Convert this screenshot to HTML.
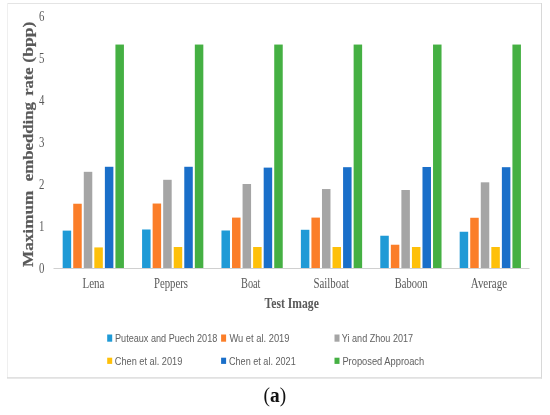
<!DOCTYPE html>
<html lang="en"><head><meta charset="utf-8"><title>Figure (a)</title>
<style>html,body{margin:0;padding:0;background:#fff}body{width:550px;height:415px;overflow:hidden}svg{display:block}text{font-family:"Liberation Serif",serif}.s{font-family:"Liberation Sans",sans-serif}</style></head><body>
<svg width="550" height="415" viewBox="0 0 550 415">
<rect x="0" y="0" width="550" height="415" fill="#fff"/>
<rect x="7" y="3" width="535" height="1" fill="#e4e4e4"/>
<rect x="7" y="3" width="1" height="375" fill="#efefef"/>
<rect x="541" y="3" width="1" height="375.5" fill="#d8d8d8"/>
<rect x="7" y="377.2" width="535" height="1.4" fill="#dadada"/>
<line x1="53.5" y1="268.5" x2="529.5" y2="268.5" stroke="#d0d0d0" stroke-width="1"/>
<rect x="62.68" y="230.62" width="8.5" height="37.38" fill="#1f9ad6"/>
<rect x="73.23" y="203.74" width="8.5" height="64.26" fill="#fb7e29"/>
<rect x="83.78" y="171.82" width="8.5" height="96.18" fill="#a5a5a5"/>
<rect x="94.33" y="247.42" width="8.5" height="20.58" fill="#fec00a"/>
<rect x="104.88" y="166.78" width="8.5" height="101.22" fill="#1a6fc9"/>
<rect x="115.43" y="44.56" width="8.5" height="223.44" fill="#45b043"/>
<text x="82.50" y="288.2" font-size="14.3" fill="#595959" textLength="22" lengthAdjust="spacingAndGlyphs">Lena</text>
<rect x="142.08" y="229.49" width="8.5" height="38.51" fill="#1f9ad6"/>
<rect x="152.63" y="203.53" width="8.5" height="64.47" fill="#fb7e29"/>
<rect x="163.18" y="179.80" width="8.5" height="88.20" fill="#a5a5a5"/>
<rect x="173.73" y="247.00" width="8.5" height="21.00" fill="#fec00a"/>
<rect x="184.28" y="166.78" width="8.5" height="101.22" fill="#1a6fc9"/>
<rect x="194.83" y="44.56" width="8.5" height="223.44" fill="#45b043"/>
<text x="154.05" y="288.2" font-size="14.3" fill="#595959" textLength="33.9" lengthAdjust="spacingAndGlyphs">Peppers</text>
<rect x="221.47" y="230.49" width="8.5" height="37.51" fill="#1f9ad6"/>
<rect x="232.03" y="217.60" width="8.5" height="50.40" fill="#fb7e29"/>
<rect x="242.57" y="184.00" width="8.5" height="84.00" fill="#a5a5a5"/>
<rect x="253.12" y="247.00" width="8.5" height="21.00" fill="#fec00a"/>
<rect x="263.68" y="167.62" width="8.5" height="100.38" fill="#1a6fc9"/>
<rect x="274.23" y="44.56" width="8.5" height="223.44" fill="#45b043"/>
<text x="241.00" y="288.2" font-size="14.3" fill="#595959" textLength="19.5" lengthAdjust="spacingAndGlyphs">Boat</text>
<rect x="300.88" y="229.78" width="8.5" height="38.22" fill="#1f9ad6"/>
<rect x="311.43" y="217.60" width="8.5" height="50.40" fill="#fb7e29"/>
<rect x="321.98" y="189.04" width="8.5" height="78.96" fill="#a5a5a5"/>
<rect x="332.53" y="247.00" width="8.5" height="21.00" fill="#fec00a"/>
<rect x="343.08" y="167.20" width="8.5" height="100.80" fill="#1a6fc9"/>
<rect x="353.63" y="44.56" width="8.5" height="223.44" fill="#45b043"/>
<text x="313.40" y="288.2" font-size="14.3" fill="#595959" textLength="35.6" lengthAdjust="spacingAndGlyphs">Sailboat</text>
<rect x="380.28" y="235.74" width="8.5" height="32.26" fill="#1f9ad6"/>
<rect x="390.83" y="244.73" width="8.5" height="23.27" fill="#fb7e29"/>
<rect x="401.38" y="190.01" width="8.5" height="77.99" fill="#a5a5a5"/>
<rect x="411.93" y="247.00" width="8.5" height="21.00" fill="#fec00a"/>
<rect x="422.48" y="166.99" width="8.5" height="101.01" fill="#1a6fc9"/>
<rect x="433.03" y="44.56" width="8.5" height="223.44" fill="#45b043"/>
<text x="394.70" y="288.2" font-size="14.3" fill="#595959" textLength="32.8" lengthAdjust="spacingAndGlyphs">Baboon</text>
<rect x="459.68" y="231.75" width="8.5" height="36.25" fill="#1f9ad6"/>
<rect x="470.23" y="217.77" width="8.5" height="50.23" fill="#fb7e29"/>
<rect x="480.78" y="182.32" width="8.5" height="85.68" fill="#a5a5a5"/>
<rect x="491.33" y="247.00" width="8.5" height="21.00" fill="#fec00a"/>
<rect x="501.88" y="167.20" width="8.5" height="100.80" fill="#1a6fc9"/>
<rect x="512.43" y="44.56" width="8.5" height="223.44" fill="#45b043"/>
<text x="470.80" y="288.2" font-size="14.3" fill="#595959" textLength="36.2" lengthAdjust="spacingAndGlyphs">Average</text>
<text x="38.9" y="272.9" font-size="13.7" fill="#595959" textLength="5.4" lengthAdjust="spacingAndGlyphs">0</text>
<text x="38.9" y="230.9" font-size="13.7" fill="#595959" textLength="5.4" lengthAdjust="spacingAndGlyphs">1</text>
<text x="38.9" y="188.9" font-size="13.7" fill="#595959" textLength="5.4" lengthAdjust="spacingAndGlyphs">2</text>
<text x="38.9" y="146.9" font-size="13.7" fill="#595959" textLength="5.4" lengthAdjust="spacingAndGlyphs">3</text>
<text x="38.9" y="104.9" font-size="13.7" fill="#595959" textLength="5.4" lengthAdjust="spacingAndGlyphs">4</text>
<text x="38.9" y="62.9" font-size="13.7" fill="#595959" textLength="5.4" lengthAdjust="spacingAndGlyphs">5</text>
<text x="38.9" y="20.9" font-size="13.7" fill="#595959" textLength="5.4" lengthAdjust="spacingAndGlyphs">6</text>
<text transform="translate(33.2,267.1) rotate(-90)" font-size="13.8" font-weight="bold" fill="#595959" stroke="#595959" stroke-width="0.2" textLength="76.5" lengthAdjust="spacingAndGlyphs">Maximum</text>
<text transform="translate(33.2,181.20000000000002) rotate(-90)" font-size="13.8" font-weight="bold" fill="#595959" stroke="#595959" stroke-width="0.2" textLength="79.2" lengthAdjust="spacingAndGlyphs">embedding</text>
<text transform="translate(33.2,95.7) rotate(-90)" font-size="13.8" font-weight="bold" fill="#595959" stroke="#595959" stroke-width="0.2" textLength="28.2" lengthAdjust="spacingAndGlyphs">rate</text>
<text transform="translate(33.2,62.699999999999996) rotate(-90)" font-size="13.8" font-weight="bold" fill="#595959" stroke="#595959" stroke-width="0.2" textLength="41.0" lengthAdjust="spacingAndGlyphs">(bpp)</text>
<text x="264.6" y="308" font-size="14.2" font-weight="bold" fill="#595959" textLength="54.2" lengthAdjust="spacingAndGlyphs">Test Image</text>
<rect x="107.2" y="334.5" width="5" height="7.2" fill="#1f9ad6"/>
<text class="s" x="115" y="341.8" font-size="11.6" fill="#616161" textLength="102.3" lengthAdjust="spacingAndGlyphs">Puteaux and Puech 2018</text>
<rect x="221.1" y="334.5" width="5" height="7.2" fill="#fb7e29"/>
<text class="s" x="229.4" y="341.8" font-size="11.6" fill="#616161" textLength="60.1" lengthAdjust="spacingAndGlyphs">Wu et al. 2019</text>
<rect x="334.5" y="334.5" width="5" height="7.2" fill="#a5a5a5"/>
<text class="s" x="341.8" y="341.8" font-size="11.6" fill="#616161" textLength="71.3" lengthAdjust="spacingAndGlyphs">Yi and Zhou 2017</text>
<rect x="107.2" y="357.7" width="5" height="6.2" fill="#fec00a"/>
<text class="s" x="114.8" y="364.6" font-size="10.9" fill="#616161" textLength="67.5" lengthAdjust="spacingAndGlyphs">Chen et al. 2019</text>
<rect x="221.1" y="357.7" width="5" height="6.2" fill="#1a6fc9"/>
<text class="s" x="229.0" y="364.6" font-size="10.9" fill="#616161" textLength="66.7" lengthAdjust="spacingAndGlyphs">Chen et al. 2021</text>
<rect x="334.5" y="357.7" width="5" height="6.2" fill="#45b043"/>
<text class="s" x="342.4" y="364.6" font-size="10.9" fill="#616161" textLength="81.8" lengthAdjust="spacingAndGlyphs">Proposed Approach</text>
<text x="263.6" y="401.6" font-size="20" fill="#111" textLength="22.6" lengthAdjust="spacingAndGlyphs">(<tspan font-weight="bold">a</tspan>)</text>
</svg></body></html>
